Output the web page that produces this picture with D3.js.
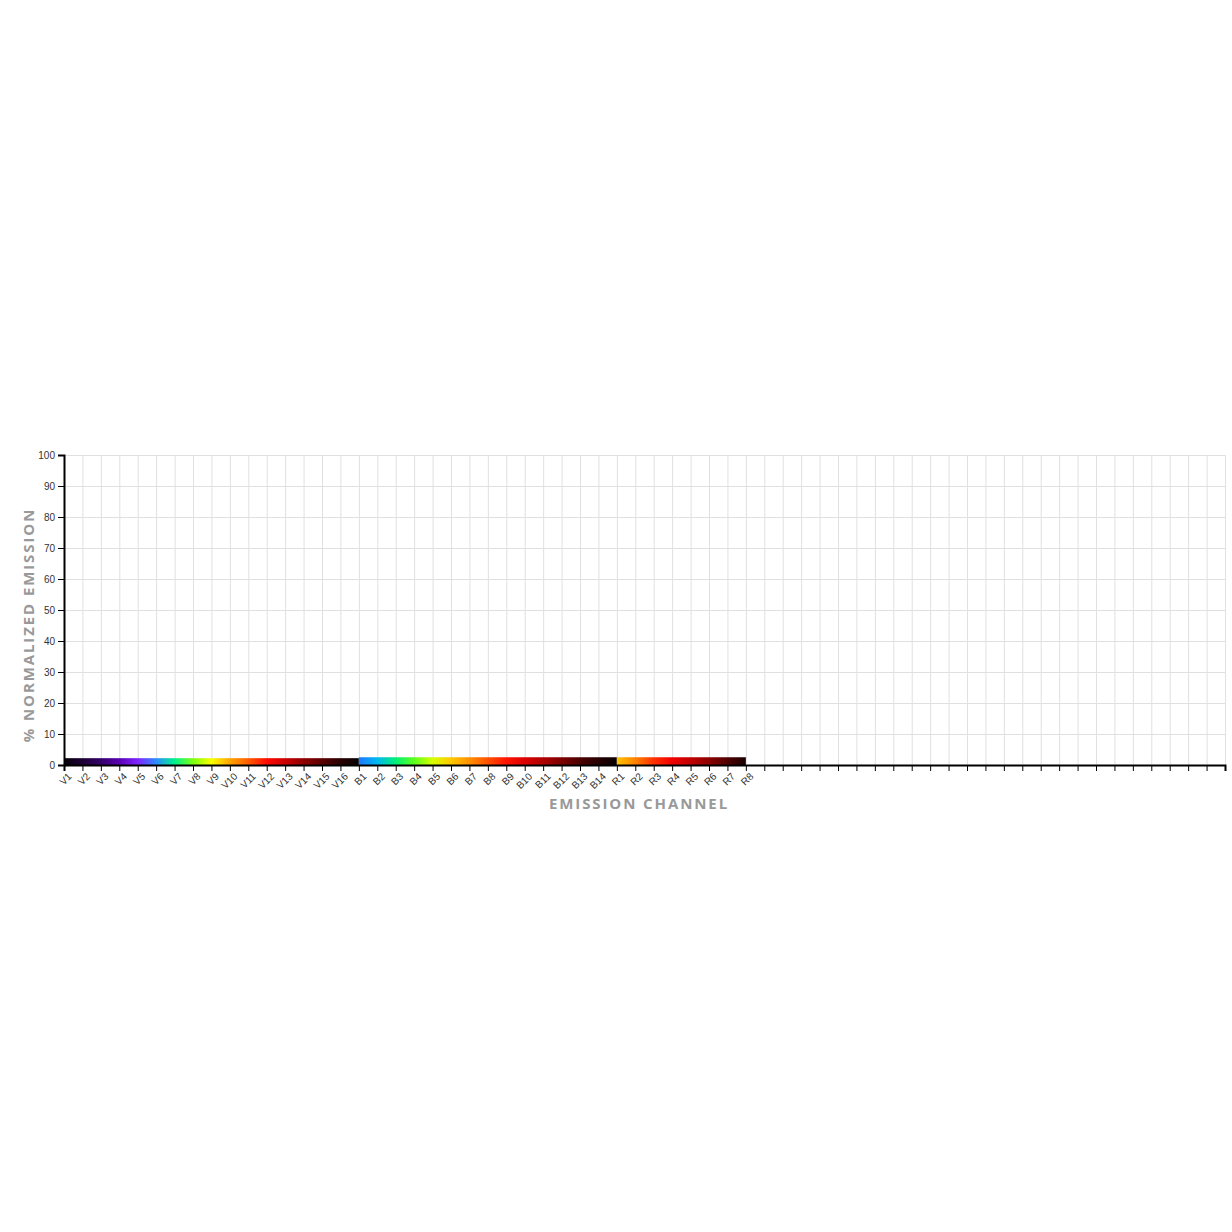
<!DOCTYPE html>
<html>
<head>
<meta charset="utf-8">
<script src="https://cdn.jsdelivr.net/npm/d3@7"></script>
<style>
  html, body { margin: 0; padding: 0; background: #fff; overflow: hidden; }
  svg { display: block; }
  .axis text { font-family: Arial, "Liberation Sans", sans-serif; font-size: 10px; fill: #333; }
  .axis path, .axis line { stroke: #000; }
  .axis path { stroke-width: 2px; }
  .grid line { stroke: #e0e0e0; stroke-width: 1px; }
  .grid path { display: none; }
  .title { font-family: "Open Sans", sans-serif; font-weight: 700; font-size: 15px; fill: #999; letter-spacing: 1.9px; }
</style>
</head>
<body>
<div id="chart"></div>
<script>
// channel names, in detector order
const violet = ['V1','V2','V3','V4','V5','V6','V7','V8','V9','V10','V11','V12','V13','V14','V15','V16']
const blue = ['B1','B2','B3','B4','B5','B6','B7','B8','B9','B10','B11','B12','B13','B14']
const red = ['R1','R2','R3','R4','R5','R6','R7','R8']
// unused detector slots: ticks drawn, no label
const unused = ['UV1','UV2','UV3','UV4','UV5','UV6','UV7','UV8','UV9','UV10','UV11','UV12','UV13','UV14','UV15','UV16',
  'YG1','YG2','YG3','YG4','YG5','YG6','YG7','YG8','YG9','YG10']
const channels = violet.concat(blue, red, unused)

const yTicks = [0,10,20,30,40,50,60,70,80,90,100]

// colour of each channel in the spectrum strip (last entry = colour at the strip end)
const violetColors = ['#0a000c','#1c0034','#34006a','#5a00b4','#8024ff','#2c8cff','#00f08c','#7cff10','#faff00','#ffa400',
  '#ff5c00','#ff0a00','#cc0000','#900000','#5a0000','#280000','#060000']
const blueColors = ['#1e78ff','#00b8f0','#00f078','#5cff1c','#d8ff00','#ffc800','#ff9000','#ff5000','#ff1400','#dc0000',
  '#b00000','#7c0000','#4c0000','#260000','#060000']
const redColors = ['#ffc400','#ff8200','#ff3000','#f00000','#c00000','#8c0000','#500000','#180000']

// strips: laser, first channel, last channel, strip height (% of axis)
const strips = [
  {laser: 'violet', from: 'V1', to: 'B1', level: 2.2, colors: violetColors},
  {laser: 'blue', from: 'B1', to: 'R1', level: 2.5, colors: blueColors},
  {laser: 'red', from: 'R1', to: 'R8', level: 2.5, colors: redColors}
]

const labelled = new Set(violet.concat(blue, red))

const margin = {top: 455, right: 7, bottom: 467, left: 64}
const width = 1232
const height = 1232
const innerWidth = width - margin.left - margin.right
const innerHeight = height - margin.top - margin.bottom

const svg = d3.select('#chart').append('svg')
  .attr('width', width)
  .attr('height', height)
const g = svg.append('g')
  .attr('transform', 'translate(' + margin.left + ',' + margin.top + ')')

const x = d3.scalePoint()
  .domain(channels)
  .range([0, innerWidth])

const y = d3.scaleLinear()
  .domain([0, 100])
  .range([innerHeight, 0])

// grid
g.append('g')
  .attr('class', 'grid')
  .attr('transform', 'translate(0,' + innerHeight + ')')
  .call(d3.axisBottom(x).tickSize(-innerHeight).tickFormat(''))
  .selectAll('text').remove()
g.append('g')
  .attr('class', 'grid')
  .call(d3.axisLeft(y).tickValues(yTicks).tickSize(-innerWidth).tickFormat(''))
  .selectAll('text').remove()

// spectrum strips
const defs = svg.append('defs')
strips.forEach(s => {
  const x0 = x(s.from), x1 = x(s.to)
  const names = channels.slice(channels.indexOf(s.from))
  const grad = defs.append('linearGradient')
    .attr('id', 'grad-' + s.laser)
    .attr('x1', '0%').attr('x2', '100%').attr('y1', '0%').attr('y2', '0%')
  s.colors.forEach((c, i) => {
    grad.append('stop')
      .attr('offset', ((x(names[i]) - x0) / (x1 - x0) * 100) + '%')
      .attr('stop-color', c)
  })
})
g.selectAll('rect.strip')
  .data(strips)
  .join('rect')
  .attr('class', 'strip')
  .attr('x', d => x(d.from))
  .attr('width', d => x(d.to) - x(d.from))
  .attr('y', d => y(d.level))
  .attr('height', d => y(0) - y(d.level))
  .attr('fill', d => 'url(#grad-' + d.laser + ')')

// axes
const xAxis = g.append('g')
  .attr('class', 'axis')
  .attr('transform', 'translate(0,' + innerHeight + ')')
  .call(d3.axisBottom(x).tickFormat(d => labelled.has(d) ? d : ''))
xAxis.selectAll('text')
  .filter(d => !labelled.has(d))
  .remove()
xAxis.selectAll('text')
  .attr('text-anchor', 'end')
  .attr('dx', '-0.3em')
  .attr('dy', '0.5em')
  .attr('transform', 'rotate(-45)')

g.append('g')
  .attr('class', 'axis')
  .call(d3.axisLeft(y).tickValues(yTicks))

// titles
svg.append('text')
  .attr('class', 'title')
  .attr('text-anchor', 'middle')
  .attr('x', 639)
  .attr('y', 809)
  .text('EMISSION CHANNEL')

svg.append('text')
  .attr('class', 'title')
  .attr('text-anchor', 'middle')
  .attr('transform', 'translate(34,625) rotate(-90)')
  .text('% NORMALIZED EMISSION')
</script>
</body>
</html>
